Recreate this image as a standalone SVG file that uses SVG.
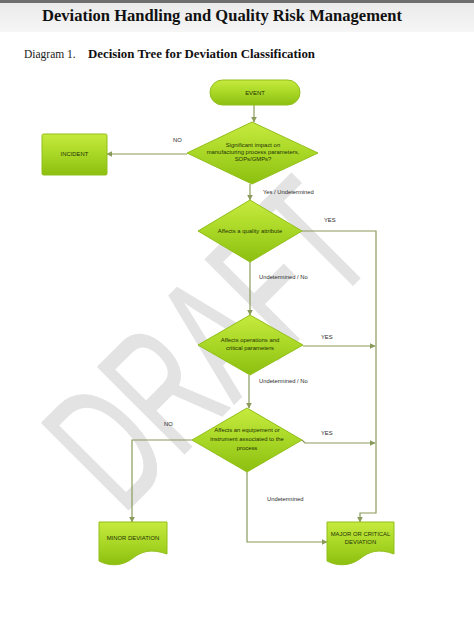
<svg xmlns="http://www.w3.org/2000/svg" width="474" height="638" viewBox="0 0 474 638">
<defs>
<linearGradient id="g" x1="0" y1="0" x2="0" y2="1">
<stop offset="0" stop-color="#c6ea3e"/>
<stop offset="0.5" stop-color="#a9d726"/>
<stop offset="1" stop-color="#8cbf10"/>
</linearGradient>
<linearGradient id="hdr" x1="0" y1="0" x2="0" y2="1">
<stop offset="0" stop-color="#e9e9e9"/>
<stop offset="1" stop-color="#f6f6f6"/>
</linearGradient>
<marker id="a" viewBox="0 0 10 10" refX="9" refY="5" markerWidth="6" markerHeight="6" orient="auto" markerUnits="userSpaceOnUse">
<path d="M0,0 L10,5 L0,10 Z" fill="#8a9a5a"/>
</marker>
<style>
.n{fill:url(#g);stroke:#92bf1a;stroke-width:1}
.t{font-family:"Liberation Sans",Arial,sans-serif;font-size:5.9px;fill:#1f3306;text-anchor:middle}
.l{font-family:"Liberation Sans",Arial,sans-serif;font-size:5.8px;fill:#2a2a2a}
.c{fill:none;stroke:#8a9a5a;stroke-width:1.2}
</style>
</defs>
<rect width="474" height="638" fill="#ffffff"/>
<rect width="474" height="32" fill="url(#hdr)"/>
<rect width="474" height="3" fill="#6e6e6e"/>
<text x="42" y="21" font-family="Liberation Serif,'Times New Roman',serif" font-weight="bold" font-size="17.5" fill="#111" textLength="360" lengthAdjust="spacingAndGlyphs">Deviation Handling and Quality Risk Management</text>
<text x="24" y="58" font-family="Liberation Serif,'Times New Roman',serif" font-size="11.5" fill="#222">Diagram 1.</text>
<text x="88" y="58" font-family="Liberation Serif,'Times New Roman',serif" font-weight="bold" font-size="11.5" fill="#111" textLength="227" lengthAdjust="spacingAndGlyphs">Decision Tree for Deviation Classification</text>

<text id="watermark" x="0" y="0" transform="translate(122,516) rotate(-45)" font-family="Liberation Sans,Arial,sans-serif" font-size="178" fill="#e3e3e3" stroke="#e3e3e3" stroke-width="1.5" stroke-linejoin="round" textLength="365" lengthAdjust="spacingAndGlyphs">DRAFT</text>

<g id="connectors">
<line class="c" x1="254" y1="105" x2="254" y2="122" marker-end="url(#a)"/>
<line class="c" x1="187" y1="154" x2="107" y2="154" marker-end="url(#a)"/>
<line class="c" x1="250" y1="184" x2="250" y2="200" marker-end="url(#a)"/>
<polyline class="c" points="302,231 376,231 376,513 360,513 360,522" marker-end="url(#a)"/>
<line class="c" x1="250" y1="262" x2="250" y2="315" marker-end="url(#a)"/>
<line class="c" x1="303" y1="346" x2="375" y2="346" marker-end="url(#a)"/>
<line class="c" x1="249" y1="375" x2="249" y2="408" marker-end="url(#a)"/>
<polyline class="c" points="192,440 132,440 132,522" marker-end="url(#a)"/>
<polyline class="c" points="302,440 305,443 375,443" marker-end="url(#a)"/>
<polyline class="c" points="247,472 247,542 327,542" marker-end="url(#a)"/>
<text class="l" x="173" y="142">NO</text>
<text class="l" x="263" y="194">Yes / Undetermined</text>
<text class="l" x="324" y="222">YES</text>
<text class="l" x="259" y="279">Undetermined / No</text>
<text class="l" x="321" y="339">YES</text>
<text class="l" x="259" y="383">Undetermined / No</text>
<text class="l" x="164" y="426">NO</text>
<text class="l" x="321" y="435">YES</text>
<text class="l" x="267" y="501">Undetermined</text>
</g>

<g id="event">
<rect class="n" x="210" y="80" width="90" height="25" rx="12.5"/>
<text class="t" x="255" y="94.5">EVENT</text>
</g>

<g id="d1">
<polygon class="n" points="252,122 318,153 252,184 187,153"/>
<text class="t" x="253" y="147">Significant impact on</text>
<text class="t" x="253" y="154">manufacturing process parameters,</text>
<text class="t" x="253" y="161">SOPs/GMPs?</text>
</g>

<g id="incident">
<rect class="n" x="42" y="134" width="65" height="41" rx="1.5"/>
<text class="t" x="74.5" y="156">INCIDENT</text>
</g>

<g id="d2">
<polygon class="n" points="250,200 302,231 250,262 198,231"/>
<text class="t" x="250" y="233">Affects a quality attribute</text>
</g>

<g id="d3">
<polygon class="n" points="250,315 303,345 250,375 198,345"/>
<text class="t" x="250" y="342">Affects operations and</text>
<text class="t" x="250" y="350">critical parameters</text>
</g>

<g id="d4">
<polygon class="n" points="247,408 302,440 247,472 192,440"/>
<text class="t" x="247" y="432">Affects an equipement or</text>
<text class="t" x="247" y="441">instrument associated to the</text>
<text class="t" x="247" y="450">process</text>
</g>

<g id="minor">
<path class="n" d="M99,522 H167 V554 C150,548 141,552 133,558 C122,567 108,566 99,561 Z"/>
<text class="t" x="133" y="540">MINOR DEVIATION</text>
</g>

<g id="major">
<path class="n" d="M327,522 H394 V554 C378,548 369,552 361,558 C350,567 336,566 327,561 Z"/>
<text class="t" x="360.5" y="536">MAJOR OR CRITICAL</text>
<text class="t" x="360.5" y="544">DEVIATION</text>
</g>
</svg>
